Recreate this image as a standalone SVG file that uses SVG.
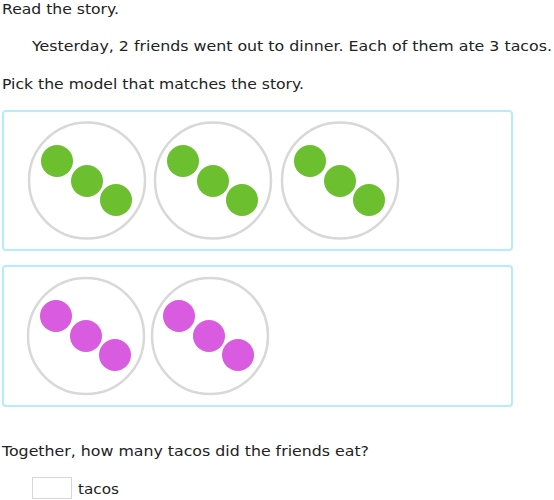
<svg xmlns="http://www.w3.org/2000/svg" width="554" height="500" viewBox="0 0 554 500">
<defs>
<style>
text{font-family:"DejaVu Sans",Verdana,sans-serif;font-size:14.5px;fill:#222}
.box{fill:#fff;stroke:#b5ecfb;stroke-width:2}
.plate{fill:#fff;stroke:#d8d8d8;stroke-width:2.5}
.g{fill:#6cbf2f}
.m{fill:#d95bdf}
</style>
<g id="g3">
<circle cx="-30" cy="-20" r="16"/><circle cx="0" cy="0" r="16"/><circle cx="29" cy="19" r="16"/>
</g>
</defs>
<rect width="554" height="500" fill="#fff"/>
<text x="2" y="13.5" textLength="117" lengthAdjust="spacingAndGlyphs">Read the story.</text>
<text x="32" y="51" textLength="520" lengthAdjust="spacingAndGlyphs">Yesterday, 2 friends went out to dinner. Each of them ate 3 tacos.</text>
<text x="2" y="89" textLength="302" lengthAdjust="spacingAndGlyphs">Pick the model that matches the story.</text>
<g id="model1">
<rect class="box" x="3" y="111" width="509" height="139" rx="3"/>
<g id="m1p1"><circle class="plate" cx="87" cy="180.5" r="58"/><use href="#g3" class="g" x="87" y="181"/></g>
<g id="m1p2"><circle class="plate" cx="213" cy="180.5" r="58"/><use href="#g3" class="g" x="213" y="181"/></g>
<g id="m1p3"><circle class="plate" cx="340" cy="180.5" r="58"/><use href="#g3" class="g" x="340" y="181"/></g>
</g>
<g id="model2">
<rect class="box" x="3" y="266" width="509" height="140" rx="3"/>
<g id="m2p1"><circle class="plate" cx="86" cy="336" r="58"/><use href="#g3" class="m" x="86" y="336"/></g>
<g id="m2p2"><circle class="plate" cx="210" cy="336" r="58"/><use href="#g3" class="m" x="209" y="336"/></g>
</g>
<text x="2" y="456" textLength="367" lengthAdjust="spacingAndGlyphs">Together, how many tacos did the friends eat?</text>
<g id="answer">
<rect x="32.5" y="477.5" width="39" height="21" fill="#fff" stroke="#d6d6d6" stroke-width="1"/>
<text x="78" y="494" textLength="41" lengthAdjust="spacingAndGlyphs">tacos</text>
</g>
</svg>
